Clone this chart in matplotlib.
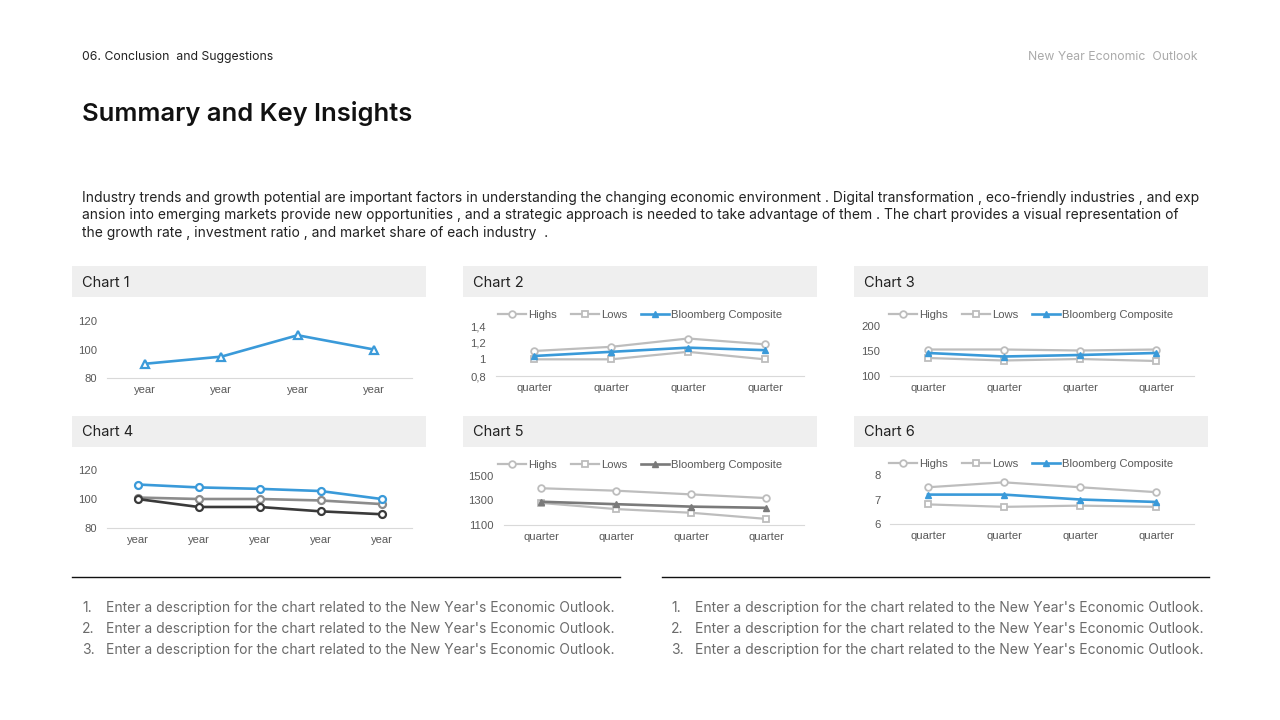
import matplotlib
matplotlib.use("Agg")
import matplotlib.pyplot as plt
from matplotlib.patches import Rectangle
from matplotlib.lines import Line2D

# ---------------- data ----------------
c1_labels = ["year", "year", "year", "year"]
c1_values = [90, 95, 110, 100]
c1_yticks = [80, 100, 120]

c2_labels = ["quarter", "quarter", "quarter", "quarter"]
c2_highs = [1.10, 1.15, 1.25, 1.18]
c2_lows = [1.00, 1.00, 1.09, 1.00]
c2_comp = [1.04, 1.09, 1.14, 1.11]
c2_yticks = [0.8, 1.0, 1.2, 1.4]
c2_yticklabels = ["0,8", "1", "1,2", "1,4"]

c3_labels = ["quarter", "quarter", "quarter", "quarter"]
c3_highs = [153, 153, 151, 153]
c3_lows = [136, 131, 134, 130]
c3_comp = [146, 139, 142, 146]
c3_yticks = [100, 150, 200]

c4_labels = ["year", "year", "year", "year", "year"]
c4_s1 = [110, 108, 107, 105.5, 100]
c4_s2 = [101, 100, 100, 99, 96.5]
c4_s3 = [100, 94.5, 94.5, 91.5, 89.5]
c4_yticks = [80, 100, 120]

c5_labels = ["quarter", "quarter", "quarter", "quarter"]
c5_highs = [1400, 1380, 1350, 1320]
c5_lows = [1280, 1230, 1200, 1150]
c5_comp = [1290, 1270, 1250, 1240]
c5_yticks = [1100, 1300, 1500]

c6_labels = ["quarter", "quarter", "quarter", "quarter"]
c6_highs = [7.5, 7.7, 7.5, 7.3]
c6_lows = [6.8, 6.7, 6.75, 6.7]
c6_comp = [7.2, 7.2, 7.0, 6.9]
c6_yticks = [6, 7, 8]

series_names = ["Highs", "Lows", "Bloomberg Composite"]

para_lines = [
    "Industry trends and growth potential are important factors in understanding the changing economic environment . Digital transformation , eco-friendly industries , and exp",
    "ansion into emerging markets provide new opportunities , and a strategic approach is needed to take advantage of them . The chart provides a visual representation of",
    "the growth rate , investment ratio , and market share of each industry  .",
]
desc_text = "Enter a description for the chart related to the New Year's Economic Outlook."

# ---------------- style ----------------
W, H = 1280, 720
BLUE = "#3A9AD9"
LGRAY = "#BDBDBD"
DGRAY = "#7A7A7A"
BLACK = "#3A3A3A"
TICK = "#595959"
UI_FONT = ["Inter", "DejaVu Sans"]
CH_FONT = ["Liberation Sans", "DejaVu Sans"]
CH_SIZE = 8.1

fig = plt.figure(figsize=(12.8, 7.2), dpi=100)
fig.patch.set_facecolor("white")


def fx(x):
    return x / W


def fy(y):
    return 1 - y / H


def box(x0, y0, x1, y1):
    return [fx(x0), fy(y1), (x1 - x0) / W, (y1 - y0) / H]


# ---------------- slide text ----------------
fig.text(fx(82), fy(57), "06. Conclusion  and Suggestions", fontsize=8.8, color="#222222",
         family=UI_FONT, va="center", ha="left")
fig.text(fx(1198), fy(57), "New Year Economic  Outlook", fontsize=8.8, color="#AAAAAA",
         family=UI_FONT, va="center", ha="right")
fig.text(fx(82), fy(113), "Summary and Key Insights", fontsize=18.4, color="#111111",
         family=UI_FONT, weight="semibold", va="center", ha="left")
for i, line in enumerate(para_lines):
    fig.text(fx(82), fy(198 + i * 17.5), line, fontsize=9.95, color="#222222",
             family=UI_FONT, va="center", ha="left")

# bottom rules and lists
fig.add_artist(Line2D([fx(72), fx(620)], [fy(577), fy(577)], color="#111111", lw=1))
fig.add_artist(Line2D([fx(662), fx(1209)], [fy(577), fy(577)], color="#111111", lw=1))
for col_x in (82, 671):
    for i in range(3):
        yy = fy(612 + i * 21)
        fig.text(fx(col_x), yy, f"{i + 1}.", fontsize=10, color="#6B6B6B",
                 family=UI_FONT, va="baseline", ha="left")
        fig.text(fx(col_x + 24), yy, desc_text, fontsize=10, color="#6B6B6B",
                 family=UI_FONT, va="baseline", ha="left")

# ---------------- panel headers ----------------
panel_x = [(72, 426), (463, 817), (854, 1208)]
rows_y = [(266, 297), (416, 447)]
n = 1
for (y0, y1) in rows_y:
    for (x0, x1) in panel_x:
        fig.add_artist(Rectangle((fx(x0), fy(y1)), (x1 - x0) / W, (y1 - y0) / H,
                                 transform=fig.transFigure, facecolor="#EFEFEF",
                                 edgecolor="none", zorder=0))
        fig.text(fx(x0 + 10), fy((y0 + y1) / 2 + 1), f"Chart {n}", fontsize=10.5,
                 color="#222222", family=UI_FONT, va="center", ha="left")
        n += 1


def style_axes(ax, labels, yticks, yticklabels=None):
    ax.set_xlim(-0.5, len(labels) - 0.5)
    ax.set_ylim(yticks[0], yticks[-1])
    ax.set_xticks(range(len(labels)))
    ax.set_xticklabels(labels)
    ax.set_yticks(yticks)
    if yticklabels is not None:
        ax.set_yticklabels(yticklabels)
    for s in ("top", "right", "left"):
        ax.spines[s].set_visible(False)
    ax.spines["bottom"].set_color("#D9D9D9")
    ax.spines["bottom"].set_linewidth(0.8)
    ax.tick_params(axis="both", length=0, labelsize=CH_SIZE, labelcolor=TICK)
    ax.tick_params(axis="x", pad=5)
    ax.tick_params(axis="y", pad=7)
    for t in ax.get_xticklabels() + ax.get_yticklabels():
        t.set_family(CH_FONT)
    ax.patch.set_alpha(0)


def hlc(ax, labels, highs, lows, comp, comp_color, legend_xy):
    x = range(len(labels))
    ax.plot(x, highs, color=LGRAY, lw=1.6, marker="o", ms=4.8, mfc="white",
            mec=LGRAY, mew=1.3, label=series_names[0], clip_on=False)
    ax.plot(x, lows, color=LGRAY, lw=1.6, marker="s", ms=4.4, mfc="white",
            mec=LGRAY, mew=1.3, label=series_names[1], clip_on=False)
    ax.plot(x, comp, color=comp_color, lw=1.9, marker="^", ms=4.8, mfc=comp_color,
            mec=comp_color, label=series_names[2], clip_on=False)
    leg = ax.legend(loc="center left", bbox_to_anchor=legend_xy,
                    bbox_transform=fig.transFigure, ncol=3, frameon=False,
                    fontsize=CH_SIZE, handlelength=2.5, handletextpad=0.2,
                    columnspacing=1.2, borderaxespad=0, borderpad=0)
    for t in leg.get_texts():
        t.set_color(TICK)
        t.set_family(CH_FONT)


# Chart 1
ax1 = fig.add_axes(box(107, 321, 412, 378))
ax1.plot(range(len(c1_labels)), c1_values, color=BLUE, lw=1.9, marker="^", ms=5.8,
         mfc="white", mec=BLUE, mew=1.6, clip_on=False)
style_axes(ax1, c1_labels, c1_yticks)

# Chart 2
ax2 = fig.add_axes(box(495.5, 326, 803.5, 376))
hlc(ax2, c2_labels, c2_highs, c2_lows, c2_comp, BLUE, (fx(498), fy(315)))
style_axes(ax2, c2_labels, c2_yticks, c2_yticklabels)

# Chart 3
ax3 = fig.add_axes(box(890, 326, 1194, 376))
hlc(ax3, c3_labels, c3_highs, c3_lows, c3_comp, BLUE, (fx(889), fy(315)))
style_axes(ax3, c3_labels, c3_yticks)

# Chart 4
ax4 = fig.add_axes(box(107, 470, 412, 528))
x4 = range(len(c4_labels))
for vals, col in ((c4_s2, "#8C8C8C"), (c4_s3, BLACK), (c4_s1, BLUE)):
    ax4.plot(x4, vals, color=col, lw=1.9, marker="o", ms=5, mfc="white", mec=col,
             mew=1.6, clip_on=False)
style_axes(ax4, c4_labels, c4_yticks)

# Chart 5
ax5 = fig.add_axes(box(503.5, 476, 803.5, 525))
hlc(ax5, c5_labels, c5_highs, c5_lows, c5_comp, DGRAY, (fx(498), fy(465)))
style_axes(ax5, c5_labels, c5_yticks)

# Chart 6
ax6 = fig.add_axes(box(890, 475, 1194, 524))
hlc(ax6, c6_labels, c6_highs, c6_lows, c6_comp, BLUE, (fx(889), fy(464)))
style_axes(ax6, c6_labels, c6_yticks)

fig.savefig("out.png", dpi=100, facecolor="white")
